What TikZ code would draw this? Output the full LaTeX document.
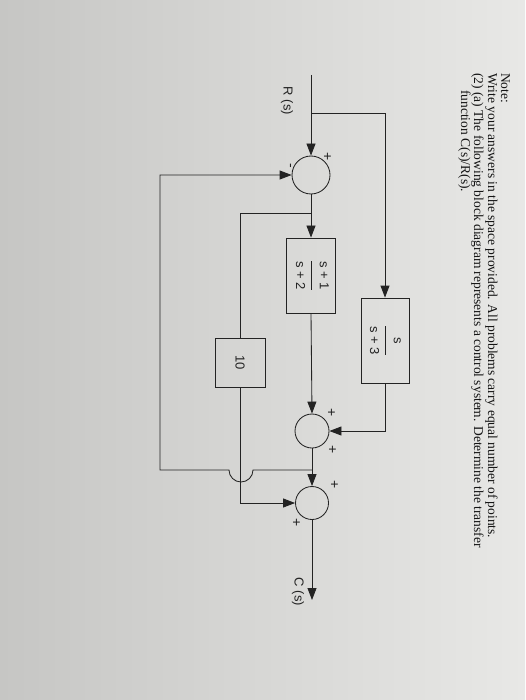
\documentclass[tikz,border=0pt]{standalone}
\usepackage{fontspec}
\setmainfont{Liberation Serif}
\setsansfont{Liberation Sans}
\usetikzlibrary{arrows.meta}
\definecolor{paperL}{RGB}{198,198,196}
\definecolor{paperR}{RGB}{232,232,230}
\definecolor{ink}{RGB}{35,35,35}
\newcommand{\frc}[2]{\begin{tabular}{@{}c@{}}#1\\[4pt]\hline\rule{0pt}{15pt}#2\end{tabular}}
\begin{document}
\begin{tikzpicture}[x=1pt,y=1pt,
  line/.style={draw=ink, line width=0.85pt},
  arr/.style={line, -{Triangle[length=12pt,width=9pt]}},
  blk/.style={draw=ink, line width=0.85pt, rectangle, inner sep=0pt, text=ink, font=\sffamily\fontsize{13}{15}\selectfont},
  sumc/.style={draw=ink, line width=0.85pt, circle, inner sep=0pt, minimum size=#1},
  sgn/.style={font=\sffamily\fontsize{14}{15}\selectfont, inner sep=0pt, text=ink},
  lbl/.style={font=\sffamily\fontsize{13}{15}\selectfont, inner sep=0pt, text=ink},
  hdr/.style={font=\fontsize{13.5}{14}\selectfont, inner sep=0pt, anchor=base west, text=black!92}
]
\shade[left color=paperL, right color=paperR] (0,-700) rectangle (525,0);
\useasboundingbox (0,-700) rectangle (525,0);
\begin{scope}[rotate=-90, transform shape]
  % header text
  \node[hdr] (t1) at (73,501) {Note:};
  \node[hdr] (t2) at (73,488) {Write your answers in the space provided. All problems carry equal number of points.};
  \node[hdr] (t3) at (73,474) {(2) (a) The following block diagram represents a control system. Determine the transfer};
  \node[hdr] (t4) at (90,461) {function C(s)/R(s).};
  % points
  \coordinate (r0) at (75,311);
  \coordinate (b0) at (113,311);
  \coordinate (b1) at (213,311);
  \coordinate (b2) at (470,312);
  \coordinate (h1) at (470,253);
  \coordinate (c1) at (470,160);
  \coordinate (c2) at (175,160);
  \coordinate (out) at (600,312);
  % nodes
  \node[sumc=38pt] (s1) at (175,311) {};
  \node[blk, minimum width=75pt, minimum height=49pt] (G1) at (275.5,311) {\frc{s + 1}{s + 2}};
  \node[blk, minimum width=85pt, minimum height=48pt] (G2) at (340.5,385) {\frc{s}{s + 3}};
  \node[blk, minimum width=49pt, minimum height=50pt] (G3) at (362.5,240) {10};
  \node[sumc=34pt] (s2) at (431,312) {};
  \node[sumc=33pt] (s3) at (503,312) {};
  % connectors
  \draw[arr] (r0) -- (s1.west);
  \draw[arr] (b0) |- (G2.west);
  \draw[arr] (s1.east) -- (G1.west);
  \draw[line] (b1) |- (G3.west);
  \draw[arr] (G1.east) -- (s2.west);
  \draw[arr] (G2.east) -| (s2.north);
  \draw[arr] (s2.east) -- (s3.west);
  \draw[arr] (G3.east) -| (s3.south);
  \draw[arr] (b2) -- (h1) arc[start angle=90, end angle=-90, radius=12] -- (c1) -- (c2) -- (s1.south);
  \draw[arr] (s3.east) -- (out);
  % labels
  \node[lbl] (Rl) at (101,287) {R (s)};
  \node[lbl] (Cl) at (592,298) {C (s)};
  \node[sgn] (p1) at (157,327) {+};
  \node[sgn] (m1) at (166,289) {-};
  \node[sgn] (p2) at (413,331) {+};
  \node[sgn] (p3) at (450,332) {+};
  \node[sgn] (p4) at (485,334) {+};
  \node[sgn] (p5) at (523,296) {+};
\end{scope}
\end{tikzpicture}
\end{document}
